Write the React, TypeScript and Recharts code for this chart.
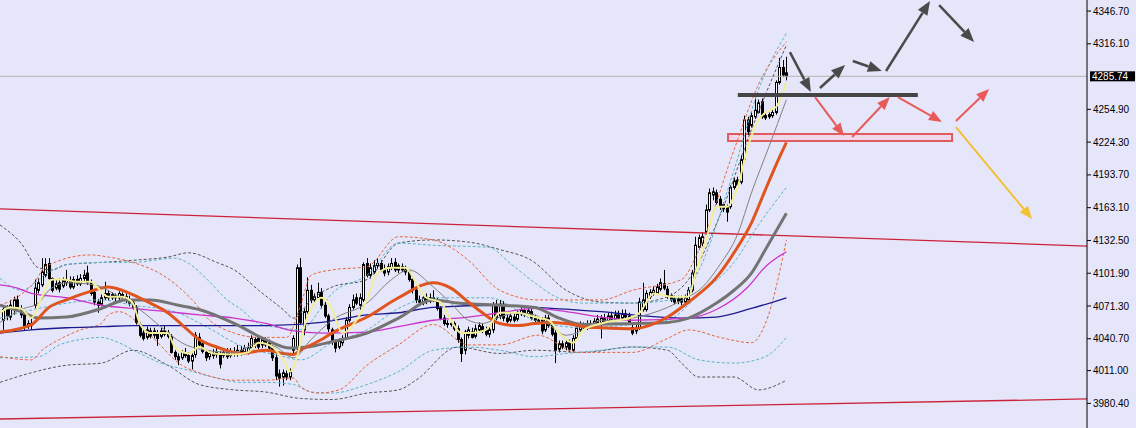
import React from 'react';
import {
  ComposedChart,
  Bar,
  Line,
  XAxis,
  YAxis,
  ReferenceLine,
  ReferenceArea,
} from 'recharts';

// right-hand price scale
const priceTicks = [4346.7, 4316.1, 4254.9, 4224.3, 4193.7, 4163.1, 4132.5, 4101.9, 4071.3, 4040.7, 4011.0, 3980.4];
const lastPrice = 4285.74;

// candles: [open, high, low, close]
const ohlc: number[][] = [
  [4058, 4072, 4049, 4068], [4069, 4072, 4058, 4062], [4061, 4077, 4058, 4072], [4068, 4080, 4063, 4077], [4077, 4081, 4066, 4069],
  [4069, 4072, 4060, 4063], [4063, 4065, 4049, 4053], [4053, 4058, 4050, 4055], [4055, 4060, 4049, 4053], [4072, 4096, 4069, 4088],
  [4086, 4097, 4083, 4093], [4091, 4116, 4089, 4103], [4100, 4116, 4098, 4110], [4111, 4116, 4096, 4097], [4097, 4098, 4084, 4086],
  [4088, 4096, 4086, 4092], [4093, 4097, 4084, 4087], [4090, 4098, 4088, 4095], [4093, 4105, 4090, 4096], [4095, 4099, 4087, 4089],
  [4089, 4099, 4087, 4096], [4096, 4100, 4090, 4092], [4092, 4101, 4090, 4097], [4097, 4105, 4094, 4100], [4102, 4109, 4091, 4093],
  [4093, 4096, 4081, 4083], [4084, 4086, 4072, 4075], [4075, 4078, 4065, 4072], [4073, 4082, 4071, 4079], [4079, 4094, 4077, 4083],
  [4083, 4086, 4076, 4079], [4079, 4084, 4077, 4082], [4081, 4083, 4075, 4079], [4079, 4085, 4076, 4083], [4082, 4084, 4076, 4079],
  [4080, 4083, 4074, 4077], [4077, 4081, 4071, 4074], [4074, 4077, 4068, 4070], [4070, 4072, 4054, 4056], [4054, 4056, 4042, 4044],
  [4046, 4049, 4039, 4041], [4042, 4052, 4040, 4049], [4048, 4051, 4041, 4043], [4044, 4051, 4041, 4048], [4046, 4049, 4034, 4041],
  [4043, 4051, 4041, 4048], [4048, 4053, 4043, 4045], [4046, 4049, 4041, 4043], [4043, 4045, 4027, 4028], [4028, 4030, 4021, 4024],
  [4024, 4027, 4016, 4021], [4023, 4030, 4021, 4028], [4027, 4032, 4023, 4025], [4025, 4028, 4018, 4020], [4020, 4027, 4012, 4025],
  [4026, 4047, 4023, 4044], [4042, 4046, 4032, 4035], [4036, 4039, 4027, 4029], [4028, 4031, 4020, 4023], [4024, 4030, 4021, 4027],
  [4027, 4031, 4022, 4025], [4026, 4032, 4023, 4028], [4027, 4029, 4013, 4017], [4025, 4031, 4023, 4028], [4028, 4032, 4022, 4024],
  [4025, 4032, 4023, 4028], [4028, 4033, 4024, 4026], [4026, 4035, 4024, 4030], [4030, 4034, 4025, 4027], [4028, 4035, 4027, 4032],
  [4027, 4037, 4026, 4032], [4032, 4044, 4030, 4041], [4040, 4042, 4032, 4035], [4041, 4044, 4031, 4033], [4035, 4042, 4032, 4040],
  [4040, 4042, 4033, 4035], [4037, 4040, 4030, 4032], [4032, 4035, 4020, 4023], [4023, 4026, 4002, 4006], [4008, 4012, 3996, 4004],
  [4005, 4012, 3997, 4009], [4008, 4011, 4002, 4005], [4005, 4013, 4002, 4010], [4030, 4044, 4026, 4041], [4032, 4110, 4030, 4107],
  [4107, 4116, 4054, 4056], [4049, 4069, 4044, 4066], [4066, 4098, 4064, 4086], [4086, 4091, 4074, 4077], [4077, 4083, 4073, 4080],
  [4079, 4093, 4077, 4084], [4084, 4088, 4069, 4072], [4072, 4075, 4060, 4062], [4062, 4064, 4047, 4050], [4049, 4051, 4035, 4038],
  [4038, 4040, 4028, 4032], [4033, 4041, 4031, 4039], [4037, 4044, 4034, 4041], [4041, 4061, 4040, 4058], [4058, 4073, 4056, 4070],
  [4070, 4082, 4068, 4077], [4079, 4083, 4072, 4074], [4072, 4083, 4068, 4079], [4077, 4112, 4075, 4110], [4111, 4116, 4098, 4100],
  [4100, 4111, 4097, 4107], [4103, 4114, 4101, 4109], [4109, 4116, 4106, 4111], [4111, 4114, 4103, 4105], [4105, 4110, 4099, 4102],
  [4103, 4111, 4100, 4108], [4107, 4116, 4105, 4111], [4112, 4116, 4103, 4105], [4105, 4111, 4102, 4109], [4108, 4111, 4103, 4105],
  [4105, 4109, 4100, 4103], [4103, 4105, 4094, 4096], [4096, 4098, 4083, 4086], [4086, 4088, 4074, 4077], [4077, 4081, 4072, 4075],
  [4075, 4082, 4072, 4079], [4079, 4083, 4073, 4076], [4076, 4083, 4074, 4079], [4079, 4086, 4075, 4077], [4076, 4079, 4067, 4069],
  [4069, 4071, 4058, 4060], [4060, 4063, 4053, 4055], [4055, 4058, 4051, 4054], [4054, 4058, 4052, 4055], [4055, 4057, 4048, 4050],
  [4050, 4053, 4037, 4040], [4040, 4042, 4019, 4027], [4030, 4049, 4026, 4047], [4044, 4052, 4041, 4049], [4047, 4051, 4041, 4042],
  [4043, 4054, 4041, 4050], [4049, 4056, 4047, 4053], [4052, 4055, 4046, 4048], [4049, 4052, 4043, 4045], [4045, 4053, 4042, 4049],
  [4049, 4075, 4046, 4072], [4073, 4077, 4058, 4060], [4062, 4077, 4059, 4073], [4073, 4076, 4057, 4060], [4060, 4063, 4055, 4057],
  [4058, 4066, 4056, 4062], [4061, 4064, 4056, 4058], [4059, 4067, 4057, 4064], [4064, 4071, 4062, 4068], [4067, 4069, 4061, 4063],
  [4064, 4070, 4062, 4067], [4066, 4069, 4058, 4060], [4060, 4063, 4056, 4058], [4058, 4061, 4054, 4056], [4058, 4061, 4045, 4048],
  [4049, 4063, 4047, 4060], [4060, 4063, 4051, 4053], [4053, 4055, 4043, 4045], [4046, 4049, 4018, 4030], [4031, 4039, 4028, 4036],
  [4036, 4039, 4031, 4033], [4033, 4040, 4030, 4037], [4037, 4040, 4028, 4031], [4030, 4044, 4028, 4041], [4041, 4054, 4040, 4051],
  [4049, 4057, 4047, 4054], [4053, 4056, 4049, 4051], [4051, 4058, 4049, 4055], [4055, 4058, 4050, 4052], [4052, 4060, 4050, 4057],
  [4056, 4063, 4055, 4059], [4055, 4063, 4041, 4060], [4060, 4064, 4055, 4057], [4057, 4065, 4055, 4062], [4062, 4066, 4057, 4059],
  [4059, 4067, 4057, 4063], [4063, 4067, 4058, 4060], [4060, 4068, 4058, 4064], [4064, 4068, 4058, 4061], [4062, 4065, 4054, 4055],
  [4051, 4054, 4044, 4046], [4048, 4054, 4045, 4051], [4051, 4079, 4049, 4075], [4068, 4093, 4066, 4077], [4068, 4086, 4066, 4083],
  [4080, 4087, 4078, 4084], [4083, 4090, 4081, 4086], [4083, 4092, 4082, 4089], [4087, 4097, 4085, 4093], [4092, 4105, 4086, 4088],
  [4087, 4090, 4078, 4080], [4081, 4083, 4075, 4077], [4078, 4081, 4073, 4075], [4076, 4081, 4073, 4078], [4078, 4081, 4072, 4075],
  [4075, 4082, 4072, 4079], [4077, 4089, 4075, 4086], [4086, 4105, 4084, 4102], [4102, 4136, 4100, 4128], [4126, 4138, 4124, 4135],
  [4130, 4140, 4127, 4136], [4140, 4166, 4138, 4161], [4161, 4181, 4159, 4177], [4175, 4182, 4170, 4178], [4177, 4180, 4166, 4168],
  [4171, 4174, 4161, 4164], [4166, 4168, 4159, 4162], [4163, 4166, 4150, 4159], [4164, 4184, 4162, 4182], [4182, 4191, 4180, 4188],
  [4189, 4192, 4182, 4184], [4187, 4212, 4185, 4208], [4208, 4249, 4206, 4245], [4245, 4248, 4231, 4234], [4240, 4252, 4238, 4249],
  [4248, 4266, 4246, 4254], [4252, 4264, 4251, 4261], [4262, 4265, 4246, 4248], [4249, 4252, 4245, 4247], [4248, 4252, 4246, 4250],
  [4249, 4255, 4247, 4252], [4252, 4282, 4250, 4280], [4280, 4303, 4278, 4294], [4294, 4301, 4285, 4287], [4289, 4304, 4282, 4285.74],
];

// indicator lines: [bar index, price]
const maFast = [
  [-1, 4065], [2, 4070], [5, 4069], [8, 4060], [11, 4080], [14, 4096], [17, 4096], [21, 4094], [25, 4094], [27, 4088],
  [30, 4080], [34, 4080], [37, 4074], [39, 4055], [42, 4046], [47, 4046], [49, 4033], [53, 4027], [56, 4033], [60, 4027],
  [66, 4026], [70, 4028], [73, 4037], [77, 4033], [80, 4021], [82, 4010], [84, 4024], [86, 4052], [89, 4074], [91, 4079],
  [94, 4068], [97, 4046], [101, 4058], [104, 4077], [107, 4102], [111, 4107], [115, 4107], [118, 4093], [121, 4079], [125, 4075],
  [128, 4058], [131, 4046], [134, 4046], [138, 4049], [142, 4065], [147, 4065], [152, 4061], [156, 4058], [159, 4046], [163, 4037],
  [166, 4049], [171, 4055], [180, 4061], [182, 4065], [186, 4083], [191, 4080], [196, 4080], [198, 4102], [201, 4133], [204, 4164],
  [207, 4164], [210, 4182], [213, 4220], [216, 4245], [218, 4252], [221, 4257], [224, 4280],
];
const maSlowThin = [
  [-1, 4056], [5, 4068], [10, 4074], [13, 4086], [18, 4093], [26, 4091], [32, 4082], [39, 4068], [45, 4052], [51, 4037],
  [58, 4030], [66, 4028], [73, 4037], [78, 4033], [83, 4023], [88, 4040], [94, 4058], [104, 4074], [111, 4096], [116, 4105],
  [123, 4089], [128, 4074], [133, 4058], [137, 4055], [142, 4061], [147, 4065], [152, 4063], [156, 4054], [161, 4044], [166, 4049],
  [171, 4058], [176, 4058], [180, 4060], [190, 4070], [196, 4080], [199, 4086], [205, 4110], [210, 4138], [214, 4177], [219, 4220],
  [224, 4264],
];
const maOrange = [
  [-1, 4047], [8, 4054], [13, 4070], [18, 4077], [24, 4084], [30, 4089], [33, 4087], [37, 4082], [42, 4074], [47, 4065],
  [51, 4054], [56, 4040], [61, 4033], [68, 4027], [75, 4030], [80, 4027], [83, 4026], [85, 4030], [91, 4040], [94, 4046],
  [104, 4061], [113, 4079], [123, 4093], [128, 4088], [133, 4075], [137, 4065], [142, 4055], [147, 4053], [152, 4055], [156, 4056],
  [161, 4055], [166, 4052], [171, 4051], [180, 4050], [190, 4061], [196, 4075], [204, 4098], [209, 4121], [214, 4149], [218, 4180],
  [222, 4210], [224, 4224],
];
const maGray = [
  [-1, 4072], [5, 4066], [10, 4060], [18, 4061], [28, 4069], [35, 4077], [42, 4077], [50, 4072], [56, 4068], [66, 4055],
  [75, 4040], [82, 4032], [87, 4033], [94, 4038], [104, 4046], [113, 4060], [123, 4077], [130, 4074], [142, 4072], [152, 4070],
  [159, 4060], [166, 4054], [180, 4055], [190, 4056], [196, 4060], [204, 4074], [209, 4086], [214, 4102], [218, 4124], [224, 4158],
];
const maMagenta = [
  [-1, 4091], [4, 4088], [8, 4083], [18, 4079], [28, 4072], [37, 4069], [47, 4066], [56, 4063], [66, 4060], [75, 4055],
  [83, 4048], [91, 4046], [104, 4047], [113, 4052], [123, 4058], [133, 4061], [142, 4065], [152, 4069], [161, 4066], [171, 4061],
  [180, 4058], [196, 4060], [204, 4068], [213, 4089], [218, 4108], [224, 4122],
];
const maNavy = [
  [-1, 4046], [8, 4049], [18, 4051], [28, 4052], [37, 4053], [56, 4053], [75, 4053], [91, 4056], [104, 4063], [113, 4065],
  [123, 4070], [142, 4072], [152, 4070], [171, 4066], [180, 4063], [194, 4060], [204, 4061], [214, 4069], [224, 4079],
];

// envelope bands (dashed)
const orangeUpper = [
  [-1, 4072], [5, 4082], [9, 4094], [12, 4108], [25, 4119], [30, 4117], [37, 4112], [47, 4097], [54, 4077], [59, 4058],
  [66, 4046], [73, 4042], [81, 4042], [85, 4072], [88, 4100], [94, 4105], [104, 4108], [113, 4136], [123, 4133], [128, 4126],
  [133, 4114], [142, 4086], [153, 4077], [171, 4077], [180, 4086], [194, 4096], [199, 4124], [209, 4217], [216, 4278], [224, 4318],
];
const orangeLower = [
  [-1, 4024], [8, 4021], [11, 4030], [16, 4040], [22, 4049], [28, 4055], [30, 4063], [33, 4066], [42, 4044], [51, 4016],
  [56, 4009], [66, 4002], [75, 4002], [83, 4004], [85, 3996], [90, 3990], [96, 3993], [104, 4016], [113, 4035], [123, 4054],
  [133, 4035], [142, 4035], [153, 4044], [164, 4028], [180, 4028], [190, 4041], [196, 4049], [205, 4042], [214, 4037], [218, 4055],
  [224, 4133],
];
const cyanUpper = [
  [-1, 4097], [5, 4086], [13, 4103], [18, 4110], [28, 4112], [37, 4112], [49, 4116], [53, 4111], [58, 4097], [64, 4077],
  [68, 4068], [73, 4055], [79, 4051], [85, 4049], [91, 4070], [94, 4083], [104, 4100], [113, 4130], [123, 4128], [139, 4126],
  [145, 4111], [152, 4093], [158, 4080], [166, 4074], [180, 4074], [194, 4079], [199, 4105], [209, 4198], [216, 4273], [224, 4326],
];
const cyanMid = [
  [-1, 4060], [13, 4071], [28, 4077], [37, 4072], [49, 4066], [58, 4052], [68, 4034], [79, 4025], [85, 4021], [94, 4037],
  [104, 4049], [113, 4069], [123, 4079], [139, 4079], [152, 4058], [166, 4051], [180, 4054], [190, 4058], [199, 4082], [209, 4112],
  [216, 4147], [224, 4182],
];
const cyanLower = [
  [-1, 4023], [10, 4024], [16, 4035], [22, 4040], [28, 4042], [33, 4037], [39, 4027], [45, 4018], [52, 4012], [60, 4005],
  [68, 4000], [75, 4000], [83, 3998], [88, 3991], [94, 3990], [104, 3998], [113, 4010], [123, 4030], [133, 4033], [142, 4030],
  [152, 4024], [161, 4027], [171, 4030], [180, 4033], [190, 4033], [199, 4021], [209, 4018], [218, 4024], [224, 4042],
];
const grayUpper = [
  [-1, 4147], [5, 4130], [10, 4107], [14, 4105], [18, 4110], [28, 4112], [37, 4114], [47, 4117], [53, 4121], [61, 4112],
  [66, 4105], [73, 4086], [80, 4068], [83, 4060], [88, 4077], [94, 4089], [104, 4096], [113, 4130], [123, 4133], [133, 4131],
  [142, 4124], [151, 4114], [161, 4086], [171, 4075], [180, 4074], [190, 4080], [196, 4096], [205, 4156], [214, 4236], [224, 4315],
];
const grayLower = [
  [-1, 4000], [8, 4009], [18, 4016], [28, 4018], [37, 4030], [47, 4016], [56, 3998], [66, 3993], [75, 3991], [85, 3985],
  [94, 3984], [104, 3990], [113, 3993], [118, 4002], [130, 4033], [142, 4027], [152, 4030], [166, 4028], [180, 4033], [190, 4030],
  [194, 4018], [199, 4005], [209, 4005], [216, 3993], [224, 4002],
];

// drawn objects: channel lines, support, zone and arrows [x1, p1, x2, p2]
const channelTop = [-1, 4161.9, 310, 4127.3];
const channelBottom = [-1, 3965.8, 310, 3984.5];
const supportLine = [210.1, 4268.3, 261.6, 4268.3];
const supportZone = [207.3, 4225.3, 271.4, 4231.9];
const darkArrows = [
  [225, 4308.4, 231, 4271.1],
  [233.6, 4274.8, 240.8, 4296.3],
  [243, 4300.0, 251.3, 4290.7],
  [252.5, 4290.7, 265.1, 4356.1],
  [267.7, 4352.3, 277.7, 4317.8],
];
const redArrows = [
  [232.2, 4266.4, 240.5, 4230.0],
  [242.8, 4229.1, 253.6, 4266.4],
  [255.9, 4266.4, 268.5, 4243.1],
  [272.5, 4244.0, 282.0, 4273.9],
];
const yellowArrows = [[272.5, 4238.4, 294.3, 4152.5]];

const candleData = ohlc.map(([o, h, l, c], i) => ({ i, o, h, l, c, range: [l, h] }));
const pts = (arr: number[][]) => arr.map(([i, p]) => ({ i, p }));

const Candle = (props: any) => {
  const { x, y, width, height, index } = props;
  const d = props.payload && props.payload.o !== undefined ? props.payload : candleData[index];
  if (!d) return null;
  const top = Math.min(y, y + height);
  const h = Math.abs(height);
  const k = h / (d.h - d.l);
  const yOf = (p: number) => top + (d.h - p) * k;
  const cx = Math.round(x + width / 2) + 0.5;
  const bodyTop = yOf(Math.max(d.o, d.c));
  const bodyBot = yOf(Math.min(d.o, d.c));
  const bull = d.c >= d.o;
  return (
    <g>
      <line x1={cx} x2={cx} y1={top} y2={top + h} stroke="#000" strokeWidth={1} />
      <rect
        x={cx - 1}
        y={bodyTop}
        width={2}
        height={Math.max(bodyBot - bodyTop, 1)}
        fill={bull ? '#ffffff' : '#000000'}
        stroke="#000"
        strokeWidth={1}
      />
    </g>
  );
};

const arrowShape = (color: string, w: number, head: number) => (props: any) => {
  const { x1, y1, x2, y2 } = props;
  const a = Math.atan2(y2 - y1, x2 - x1);
  const bx = x2 - head * Math.cos(a);
  const by = y2 - head * Math.sin(a);
  const hw = head * 0.4;
  const px = -Math.sin(a) * hw;
  const py = Math.cos(a) * hw;
  return (
    <g>
      <line x1={x1} y1={y1} x2={bx} y2={by} stroke={color} strokeWidth={w} />
      <polygon points={`${x2},${y2} ${bx + px},${by + py} ${bx - px},${by - py}`} fill={color} />
    </g>
  );
};

const PriceTag = (props: any) => {
  const vb = props.viewBox || {};
  const x = (vb.x || 0) + (vb.width || 0) + 3;
  const y = vb.y || 0;
  return (
    <g>
      <rect x={x} y={y - 5} width={45} height={10} fill="#000" />
      <text x={x + 2} y={y + 3.6} fill="#fff" fontSize={10} fontFamily="Liberation Sans, Arial, sans-serif">
        {lastPrice.toFixed(2)}
      </text>
    </g>
  );
};

const seg = (s: number[]) => [
  { x: s[0], y: s[1] },
  { x: s[2], y: s[3] },
];

const noDot = { r: 0, strokeWidth: 0, fill: 'none', stroke: 'none' };

export default function App() {
  const bands: [number[][], string][] = [
    [grayUpper, '#555555'],
    [grayLower, '#555555'],
    [cyanUpper, '#5ab4c8'],
    [cyanMid, '#5ab4c8'],
    [cyanLower, '#5ab4c8'],
    [orangeUpper, '#e8643c'],
    [orangeLower, '#e8643c'],
  ];
  const averages: [number[][], string, number][] = [
    [maNavy, '#1a1a8c', 1.3],
    [maMagenta, '#cc33cc', 1.3],
    [maGray, '#747474', 3],
    [maOrange, '#e0541e', 3],
    [maSlowThin, '#808080', 1],
    [maFast, '#f2ee96', 2],
  ];

  return (
    <div style={{ position: 'absolute', left: 0, top: 0, width: 1136, height: 428, background: '#e6e6fa' }}>
      <ComposedChart width={1136} height={428} data={candleData} margin={{ top: 0, right: 0, bottom: 0, left: 0 }}>
        <XAxis dataKey="i" type="number" domain={[-1, 310]} hide allowDataOverflow />
        <YAxis
          orientation="right"
          type="number"
          domain={[3957.4, 4357]}
          ticks={priceTicks}
          interval={0}
          width={49}
          allowDataOverflow
          axisLine={{ stroke: '#000' }}
          tickLine={{ stroke: '#000' }}
          tickSize={4}
          tick={{ fontSize: 10, fill: '#000', fontFamily: 'Liberation Sans, Arial, sans-serif' }}
          tickFormatter={(v: number) => v.toFixed(2)}
        />

        <ReferenceLine segment={seg(channelTop)} stroke="#cc2238" strokeWidth={1.3} ifOverflow="visible" />
        <ReferenceLine segment={seg(channelBottom)} stroke="#cc2238" strokeWidth={1.3} ifOverflow="visible" />
        <ReferenceLine y={lastPrice} stroke="#b4b4b4" strokeWidth={1} label={<PriceTag />} />

        <Bar dataKey="range" barSize={3} shape={<Candle />} isAnimationActive={false} />

        {bands.map(([arr, color], k) => (
          <Line
            key={'b' + k}
            data={pts(arr)}
            dataKey="p"
            type="monotone"
            stroke={color}
            strokeWidth={1}
            strokeDasharray="3 2"
            dot={noDot}
            activeDot={false}
            isAnimationActive={false}
          />
        ))}
        {averages.map(([arr, color, w], k) => (
          <Line
            key={'m' + k}
            data={pts(arr)}
            dataKey="p"
            type="monotone"
            stroke={color}
            strokeWidth={w}
            dot={false}
            activeDot={false}
            isAnimationActive={false}
          />
        ))}

        <ReferenceArea
          x1={supportZone[0]}
          x2={supportZone[2]}
          y1={supportZone[1]}
          y2={supportZone[3]}
          fill="#f4d2e2"
          fillOpacity={0.7}
          stroke="#e05c5c"
          strokeWidth={2}
          ifOverflow="visible"
        />
        <ReferenceLine segment={seg(supportLine)} stroke="#454545" strokeWidth={4} ifOverflow="visible" />
        {darkArrows.map((a, k) => (
          <ReferenceLine key={'d' + k} segment={seg(a)} ifOverflow="visible" shape={arrowShape('#4a4a4a', 2.5, 14)} />
        ))}
        {redArrows.map((a, k) => (
          <ReferenceLine key={'r' + k} segment={seg(a)} ifOverflow="visible" shape={arrowShape('#e85a5a', 2, 13)} />
        ))}
        {yellowArrows.map((a, k) => (
          <ReferenceLine key={'y' + k} segment={seg(a)} ifOverflow="visible" shape={arrowShape('#f2c030', 2, 13)} />
        ))}
      </ComposedChart>
    </div>
  );
}
